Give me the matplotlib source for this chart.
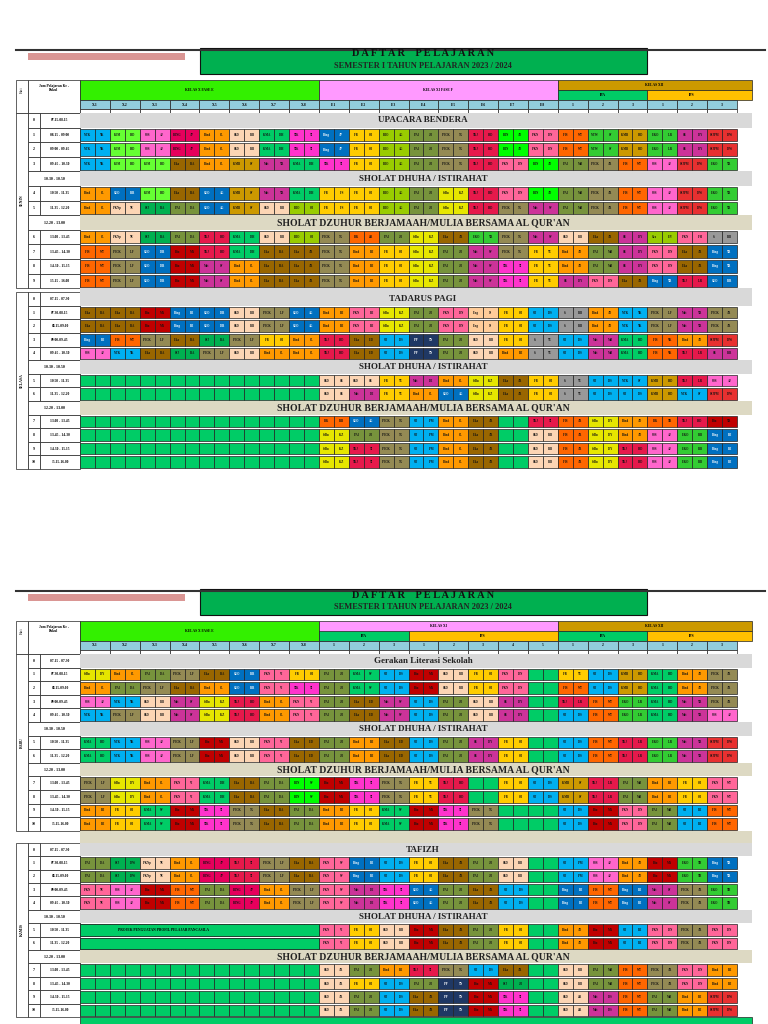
import matplotlib
matplotlib.use("Agg")
import matplotlib.pyplot as plt
from matplotlib.patches import Rectangle

# ============================================================
# DATA
# ============================================================

classes_x = ["X-1", "X-2", "X-3", "X-4", "X-5", "X-6", "X-7", "X-8"]
classes_f1 = ["F-1", "F-2", "F-3", "F-4", "F-5", "F-6", "F-7", "F-8"]
classes_f2 = ["1", "2", "3", "1", "2", "3", "4", "5"]
classes_xii = ["1", "2", "3", "1", "2", "3"]

days = ["SENIN", "SELASA", "RABU", "KAMIS"]

subject_colors = {
    "MTK": "#00b0f0", "KIM": "#66ff33", "SOS": "#ff66cc", "BING": "#e6005c",
    "Bind": "#ff9900", "SBD": "#fcd5b4", "KMA": "#00cc66", "TIK": "#ff33cc",
    "Bing": "#0070c0", "FB": "#ffcc00", "BIO": "#99cc00", "PAI": "#77933c",
    "PJOK": "#948a54", "TKJ": "#e6194b", "BIN": "#00ff00", "PKN": "#ff6699",
    "FIS": "#ff6600", "MTW": "#33cc33", "KMB": "#cc9900", "EKO": "#33cc33",
    "SB": "#cc3399", "SEJPM": "#e83030", "Eko": "#996600", "Mat": "#cc3399",
    "GEO": "#0070c0", "SeBu": "#e6e600", "PKNp": "#fcd5b4", "Geo": "#99cc00",
    "Ss": "#999999", "SIJ": "#00b0f0", "PP": "#1f3864", "BK": "#ff6600",
    "SEJ": "#00b050", "Bio": "#c00000", "-": "#00cc66",
}

R1 = "MTK-YK KIM-HD SOS-AJ BING-AP Bind-SL SBD-RB KMA-DH TIK-TI Bing-AP FB-SH BIO-AG PAI-JH PJOK-TG TKJ-HD BIN-AD PKN-DN FIS-WT MTW-SF KMB-HD EKO-LR SB-DY SEJPM-DW"
R3 = "MTK-YK KIM-HD KIM-HD Eko-RA Bind-SL KMB-SF Mat-YR KMA-DH TIK-TI FB-SH BIO-AG PAI-JH PJOK-TG TKJ-HD PKN-DN BIN-AD PAI-MH PJOK-AR FIS-WT SOS-AJ SEJPM-DW EKO-YR"
R4 = "Bind-SL GEO-RR KIM-HD Eko-RA GEO-AG KMB-SF Mat-YR KMA-DH FB-FS FB-SH BIO-AG PAI-JH SeBu-KZ TKJ-HD PKN-DN BIN-AD PAI-MH PJOK-AR FIS-WT SOS-AJ SEJPM-DW EKO-YR"
R5 = "Bind-SL PKNp-NU SEJ-RA PAI-DA GEO-AG KMB-SF SBD-RB BIO-SH FB-FS FB-SH BIO-AG PAI-JH SeBu-KZ TKJ-HD PJOK-TG Mat-SV PAI-MH PJOK-AR FIS-WT SOS-AJ SEJPM-DW EKO-YR"
R6 = "Bind-SL PKNp-NU SEJ-RA PAI-DA TKJ-HD KMA-DH SBD-RB BIO-SH PJOK-TG BK-ZR PAI-JH SeBu-KZ Eko-AR EKO-YR PJOK-TG Mat-SV SBD-RB Eko-AR SB-DY Geo-EV PKN-FH Ss-RB"
R7 = "FIS-WT PJOK-LF GEO-DR Bio-MA TKJ-HD KMA-DH Eko-RA Eko-AR PJOK-TG Bind-RI FB-SH SeBu-KZ PAI-JH Mat-SV PJOK-TG FB-YU Bind-AD PAI-MH SB-DY PKN-DN Eko-AR Bing-YR"
R8 = "FIS-WT PJOK-LF GEO-DR Bio-MA Mat-SF Bind-SL Eko-RA Eko-AR PJOK-TG Bind-RI FB-SH SeBu-KZ PAI-JH Mat-SV TIK-TI FB-YU Bind-AD PAI-MH SB-DY PKN-DN Eko-AR Bing-YR"
R9 = "FIS-WT PJOK-LF GEO-DR Bio-MA Mat-SF Bind-SL Eko-RA Eko-AR PJOK-TG Bind-RI FB-SH SeBu-KZ PAI-JH Mat-SV TIK-TI FB-YU SB-DY PKN-DN Eko-AR Bing-YR TKJ-LR GEO-RR"
S1 = "Eko-RA Eko-RA Bio-MA Bing-RI GEO-DR SBD-RB PJOK-LF GEO-AG Bind-RI PKN-RI SeBu-KZ PAI-JH PKN-DN Eng-JS FB-SH SIJ-DS Ss-RB Bind-AD MTK-YK PJOK-LF Mat-YR PJOK-AR"
S2 = "Eko-RA Eko-RA Bio-MA Bing-RI GEO-DR SBD-RB PJOK-LF GEO-AG Bind-RI PKN-RI SeBu-KZ PAI-JH PKN-DN Eng-JS FB-SH SIJ-DS Ss-RB Bind-AD MTK-YK PJOK-LF Mat-YR PJOK-AR"
S3 = "Bing-RI FIS-WT PJOK-LF Eko-RA SEJ-RA PJOK-LF FB-SH Bind-SL TKJ-HD Eko-ED SIJ-DS PP-TN PAI-JH SBD-RB FB-SH Ss-YU SIJ-DS Mat-MH KMA-HD FIS-VK Bind-AD SEJPM-DW"
S4 = "SOS-AJ MTK-YK Eko-RA SEJ-RA PJOK-LF SBD-RB Bind-SL Bind-SL TKJ-HD Eko-ED SIJ-DS PP-TN PAI-JH SBD-RB Bind-RI Ss-YU SIJ-DS Mat-MH KMA-HD FIS-VK TKJ-LR SB-RR"
S5 = "- - - - - - - - SBD-SB SBD-SB FB-YU Mat-DI Bind-SL SeBu-KZ Eko-AR FB-SH Ss-YU SIJ-DS MTK-SF KMB-HD TKJ-LR SOS-AJ"
S6 = "- - - - - - - - SBD-SB Mat-DI FB-YU Bind-SL GEO-AG SeBu-KZ Eko-AR FB-SH Ss-YU SIJ-DS SIJ-DS KMB-HD MTK-SF SEJPM-DW"
S7 = "- - - - - - - - BK-RB GEO-AG PJOK-TG SIJ-PM Bind-SL Eko-AR - TKJ-TI FIS-AR SeBu-DY Bind-AD BK-TR TKJ-HD Bio-YR"
S8 = "- - - - - - - - SeBu-KZ PAI-JH PJOK-TG SIJ-PM Bind-SL Eko-AR - SBD-RB FIS-AR SeBu-DY Bind-AD SOS-AJ EKO-RB Bing-RI"
S9 = "- - - - - - - - SeBu-KZ TKJ-TI PJOK-TG SIJ-PM Bind-SL Eko-AR - SBD-RB FIS-AR SeBu-DY TKJ-HD SOS-AJ EKO-RB Bing-RI"
P1 = "SeBu-DY Bind-SL PAI-DA PJOK-LF Eko-RA GEO-RR PKN-VI FB-SH PAI-JH KMA-SV SIJ-DS Bio-MA SBD-RB FB-SH PKN-DN - FB-YU SIJ-DS KMB-HD KMA-HD Bind-AD PJOK-AR"
P2 = "Bind-SL PAI-DA PJOK-LF Eko-RA Bind-SL GEO-RR PKN-VI TIK-TI PAI-JH KMA-SV SIJ-DS Bio-MA SBD-RB FB-SH PKN-DN - FIS-WT SIJ-DS KMB-HD KMA-HD Bind-AD PJOK-AR"
P3 = "SOS-AJ MTK-YK SBD-RB Mat-SF SeBu-KZ TKJ-HD Bind-SL PKN-VI PAI-JH Eko-ED Mat-SV SIJ-DS PAI-JH SBD-RB SB-DY - TKJ-LR FIS-WT EKO-LR KMA-HD Mat-YR PJOK-AR"
P4 = "MTK-YK PJOK-LF SBD-RB Mat-SF SeBu-KZ TKJ-HD Bind-SL PKN-VI PAI-JH Eko-ED Mat-SV SIJ-DS PAI-JH SBD-RB SB-DY - SIJ-DS FIS-WT EKO-LR KMA-HD Mat-YR SOS-AJ"
P5 = "KMA-HD MTK-YK SOS-AJ PJOK-LF Bio-MA SBD-RB PKN-VI Eko-ED PAI-JH Bind-RI Eko-ED SIJ-DS PAI-JH SB-DY FB-SH - SIJ-DS FIS-WT TKJ-LR EKO-LR Mat-YR SEJPM-DW"
P7 = "PJOK-LF SeBu-DY Bind-SL PKN-VI KMA-DH Eko-RA PAI-DA BIN-SV Bio-MA TIK-TI PJOK-TG FB-YU TKJ-HD - FB-SH SIJ-DS KMB-SF TKJ-LR PAI-MH Bind-RI FB-SH PKN-WT"
P8 = "PJOK-LF SeBu-DY Bind-SL PKN-VI KMA-DH Eko-RA PAI-DA BIN-SV Bio-MA TIK-TI PJOK-TG FB-YU TKJ-HD - FB-SH SIJ-DS KMB-SF TKJ-LR PAI-MH Bind-RI FB-SH PKN-WT"
P9 = "Bind-RI FB-SH KMA-SV Bio-MA TIK-TI PJOK-TG Eko-RA PAI-DA Bind-RI FB-SH KMA-SV Bio-MA TIK-TI PJOK-TG - - SIJ-DS Bio-MA PKN-DN PAI-MH SIJ-RI FIS-WT"
K1 = "PAI-DA SEJ-DW PKNp-NU Bind-SL BING-AP TKJ-TI PJOK-LF Eko-RA PKN-SV Bing-RI SIJ-DS FB-SH Eko-AR PAI-JH SBD-RB - SIJ-PM SOS-AJ Bind-AD Bio-MA EKO-TH Bing-YR"
K2 = "PAI-DA SEJ-DW PKNp-NU Bind-SL BING-AP TKJ-TI PJOK-LF Eko-RA PKN-SV Bing-RI SIJ-DS FB-SH Eko-AR PAI-JH SBD-RB - SIJ-PM SOS-AJ Bind-AD Bio-MA EKO-TH Bing-YR"
K3 = "PKN-NU SOS-AJ Bio-MA FIS-WT PAI-DA BING-AP Bind-SL PJOK-LF PKN-SV Mat-DI TIK-TI GEO-AG PAI-JH Eko-AR SIJ-DS - Bing-RI FIS-WT Bing-RI Mat-SF PJOK-AR EKO-TH"
K5 = "- - - - - - - - PKN-VI FB-SH SBD-RB Bio-MA Eko-AR PAI-JH FB-SH - Bind-AD Bio-MA SIJ-RI PKN-DN PJOK-AR PKN-DN"
K7 = "- - - - - - - - SBD-AR PAI-JH Bind-RI TKJ-TI PJOK-TG SIJ-DS Eko-AR - SBD-RB PAI-MH FIS-WT PJOK-AR PKN-DN Bind-RI"
K8 = "- - - - - - - - SBD-AR FB-SH SIJ-DS PAI-JH PP-TN Bio-MA SEJ-JH - SBD-RB PAI-MH FIS-WT PJOK-AR PKN-DN Bind-RI"
K9 = "- - - - - - - - SBD-AR PAI-JH SIJ-DS Eko-AR PP-TN Bio-MA TIK-TI - SBD-ZR Mat-DS FIS-WT PAI-MH Bind-RI SEJPM-DW"

# row lists per day: (no, time, row data or banner text)
day1 = [
    ("0", "07.15-08.15", "UPACARA BENDERA"),
    ("1", "08.15 - 09.00", R1), ("2", "09.00 - 09.45", R1), ("3", "09.45 - 10.30", R3),
    ("", "10.30 - 10.50", "SHOLAT DHUHA / ISTIRAHAT"),
    ("4", "10.50 - 11.35", R4), ("5", "11.35 - 12.20", R5),
    ("", "12.20 - 13.00", "SHOLAT DZUHUR BERJAMAAH/MULIA BERSAMA AL QUR'AN"),
    ("6", "13.00 - 13.45", R6), ("7", "13.45 - 14.30", R7),
    ("8", "14.30 - 15.15", R8), ("9", "15.15 - 16.00", R9),
]
day2 = [
    ("0", "07.15 - 07.30", "TADARUS PAGI"),
    ("1", "07.30-08.15", S1), ("2", "08.15-09.00", S2), ("3", "09.00-09.45", S3), ("4", "09.45 - 10.30", S4),
    ("", "10.30 - 10.50", "SHOLAT DHUHA / ISTIRAHAT"),
    ("5", "10.50 - 11.35", S5), ("6", "11.35 - 12.20", S6),
    ("", "12.20 - 13.00", "SHOLAT DZUHUR BERJAMAAH/MULIA BERSAMA AL QUR'AN"),
    ("7", "13.00 - 13.45", S7), ("8", "13.45 - 14.30", S8), ("9", "14.30 - 15.15", S9), ("10", "15.15-16.00", S9),
]
day3 = [
    ("0", "07.15 - 07.30", "Gerakan Literasi Sekolah"),
    ("1", "07.30-08.15", P1), ("2", "08.15-09.00", P2), ("3", "09.00-09.45", P3), ("4", "09.45 - 10.30", P4),
    ("", "10.30 - 10.50", "SHOLAT DHUHA / ISTIRAHAT"),
    ("5", "10.50 - 11.35", P5), ("6", "11.35 - 12.20", P5),
    ("", "12.20 - 13.00", "SHOLAT DZUHUR BERJAMAAH/MULIA BERSAMA AL QUR'AN"),
    ("7", "13.00 - 13.45", P7), ("8", "13.45 - 14.30", P8), ("9", "14.30 - 15.15", P9), ("10", "15.15-16.00", P9),
]
day4 = [
    ("0", "07.15 - 07.30", "TAFIZH"),
    ("1", "07.30-08.15", K1), ("2", "08.15-09.00", K2), ("3", "09.00-09.45", K3), ("4", "09.45 - 10.30", K3),
    ("", "10.30 - 10.50", "SHOLAT DHUHA / ISTIRAHAT"),
    ("5", "10.50 - 11.35", K5), ("6", "11.35 - 12.20", K5),
    ("", "12.20 - 13.00", "SHOLAT DZUHUR BERJAMAAH/MULIA BERSAMA AL QUR'AN"),
    ("7", "13.00 - 13.45", K7), ("8", "13.45 - 14.30", K8), ("9", "14.30 - 15.15", K9), ("10", "15.15-16.00", K9),
]

# ============================================================
# DRAW
# ============================================================

FONT = "Liberation Serif"
X0, X1, XEND = 80, 737, 752
CW = (X1 - X0) / 22.0

fig = plt.figure(figsize=(7.68, 10.24), dpi=100)
ax = fig.add_axes([0, 0, 1, 1])
ax.set_xlim(0, 768)
ax.set_ylim(1024, 0)
ax.axis("off")


def box(x, y, w, h, fc, lw=0.5, ec="#222222"):
    ax.add_patch(Rectangle((x, y), w, h, facecolor=fc, edgecolor=ec, linewidth=lw))


def txt(x, y, s, size=2.6, **kw):
    ax.text(x, y, s, fontsize=size, ha="center", va="center", fontfamily=FONT,
            fontweight="bold", **kw)


def draw_header(y, xi_split):
    # top line, pink bar, title
    ax.plot([16, 765], [y, y], color="#333333", lw=1.5)
    box(28, y + 3, 157, 7, "#da9694", lw=0, ec="none")
    box(200, y - 2, 447, 26, "#00b050", lw=0.8, ec="#111111")
    txt(423, y + 4, "D A F T A R    P E L A J A R A N", size=7.5, color="#111111")
    txt(423, y + 16, "SEMESTER I TAHUN PELAJARAN 2023 / 2024", size=6, color="#222222")
    hy = y + 30
    box(16, hy, 12, 33, "white")
    ax.text(22, hy + 10, "Hari", fontsize=2.6, rotation=90, ha="center", va="center", fontfamily=FONT)
    box(28, hy, 52, 33, "white")
    txt(54, hy + 8, "Jam Pelajaran Ke -\nPukul", size=2.6)
    box(X0, hy, 8 * CW, 20, "#33f000")
    txt(X0 + 4 * CW, hy + 10, "KELAS X FASE E", size=2.6)
    box(X0 + 8 * CW, hy, 8 * CW, 20, "#ff99ff")
    box(X0 + 16 * CW, hy, XEND - X0 - 16 * CW, 10, "#cc9900")
    txt(X0 + 19 * CW + 7, hy + 5, "KELAS XII", size=2.6)
    box(X0 + 16 * CW, hy + 10, 3 * CW, 10, "#00cc66")
    txt(X0 + 17.5 * CW, hy + 15, "IPA", size=2.6)
    box(X0 + 19 * CW, hy + 10, XEND - X0 - 19 * CW, 10, "#ffc000")
    txt(X0 + 20.5 * CW, hy + 15, "IPS", size=2.6)
    if xi_split:
        txt(X0 + 12 * CW, hy + 5, "KELAS XI", size=2.6)
        box(X0 + 8 * CW, hy + 10, 3 * CW, 10, "#00cc66")
        txt(X0 + 9.5 * CW, hy + 15, "IPA", size=2.6)
        box(X0 + 11 * CW, hy + 10, 5 * CW, 10, "#ffc000")
        txt(X0 + 13.5 * CW, hy + 15, "IPS", size=2.6)
        names = classes_x + classes_f2 + classes_xii
    else:
        txt(X0 + 12 * CW, hy + 10, "KELAS XI FASE F", size=2.6)
        names = classes_x + classes_f1 + classes_xii
    for i, n in enumerate(names):
        box(X0 + i * CW, hy + 20, CW, 9, "#92cddc")
        txt(X0 + (i + 0.5) * CW, hy + 24.5, n, size=2.6)
        box(X0 + i * CW, hy + 29, CW, 4, "white")
    return hy + 33


def draw_day(y, rows, h, name, projek=False):
    y_start = y
    for no, time, data in rows:
        lesson = len(data.split()) == 22
        if no != "":
            box(28, y, 12, h, "white")
            txt(34, y + h / 2, no, size=2.8)
            box(40, y, 40, h, "white")
            txt(60, y + h / 2, time, size=2.6)
        else:
            box(28, y, 52, h, "white")
            txt(54, y + h / 2, time, size=2.8)
        if not lesson:
            fc = "#ddd9c3" if "DZUHUR" in data else "#d9d9d9"
            box(X0, y, XEND - X0, h, fc, lw=0, ec="none")
            txt(423, y + h / 2, data, size=6.5 if len(data) < 30 else 7, color="#222222")
        else:
            tokens = data.split()
            for i, tok in enumerate(tokens):
                if tok == "-":
                    for k in range(2):
                        box(X0 + i * CW + k * CW / 2, y + 1, CW / 2, h - 2, "#00cc66")
                    continue
                subj, tch = tok.split("-")
                fc = subject_colors.get(subj, "#ffcc99")
                for k, s in enumerate([subj, tch]):
                    cx = X0 + i * CW + k * CW / 2
                    box(cx, y + 1, CW / 2, h - 2, fc)
                    txt(cx + CW / 4, y + h / 2, s, size=2.2,
                        color="white" if fc in ("#0070c0", "#1f3864") else "#111111")
            if projek and no in ("5", "6"):
                box(X0, y + 1, 8 * CW, h - 2, "#00cc66")
                if no == "5":
                    txt(X0 + 2.8 * CW, y + h / 2, "PROJEK PENGUATAN PROFIL PELAJAR PANCASILA", size=2.6)
        y += h
    box(16, y_start, 12, y - y_start, "white")
    ax.text(22, (y_start + y) / 2, name, fontsize=2.8, rotation=90, ha="center",
            va="center", fontfamily=FONT, fontweight="bold")
    return y


# page 1
y = draw_header(50, False)
y = draw_day(y, day1, 14.6, days[0])
box(X0, y, XEND - X0, 4, "#d9d9d9", lw=0, ec="none")
y = draw_day(y + 4, day2, 13.6, days[1])

# page 2
y = draw_header(591, True)
y = draw_day(y, day3, 13.6, days[2])
box(X0, y, XEND - X0, 12, "#ddd9c3", lw=0, ec="none")
y = draw_day(y + 12, day4, 13.4, days[3], projek=True)
box(X0, y, XEND - X0, 10, "#00cc66", lw=0.5)

fig.savefig("out.png", dpi=100)
